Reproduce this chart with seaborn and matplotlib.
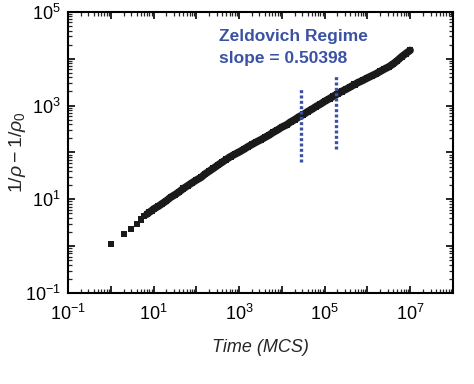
import numpy as np
import pandas as pd
import matplotlib
matplotlib.use("Agg")
import matplotlib.pyplot as plt
import matplotlib.ticker as mticker
import seaborn as sns

# ---- data ----
time_mcs = [1, 2, 3, 4, 5, 6, 7, 8, 9, 10,
            13, 16, 20, 25, 32, 40, 50, 63, 79, 100,
            130, 160, 200, 250, 320, 400, 500, 630, 790, 1000,
            1300, 1600, 2000, 2500, 3200, 4000, 5000, 6300, 7900, 1.0e4,
            1.3e4, 1.6e4, 2.0e4, 2.5e4, 3.2e4, 4.0e4, 5.0e4, 6.3e4, 7.9e4, 1.0e5,
            1.3e5, 1.6e5, 2.0e5, 2.5e5, 3.2e5, 4.0e5, 5.0e5, 6.3e5, 7.9e5, 1.0e6,
            1.3e6, 1.6e6, 2.0e6, 2.5e6, 3.2e6, 4.0e6, 5.0e6, 6.3e6, 7.9e6, 1.0e7]
inv_rho = [1.12, 1.8, 2.35, 2.95, 3.7, 4.3, 4.8, 5.3, 5.7, 6.2,
           7.1, 8.1, 9.3, 11.0, 12.6, 14.5, 17.0, 19.5, 22.4, 25.7,
           29.5, 34.7, 39.8, 45.7, 53.7, 61.7, 70.8, 81.3, 91.2, 102,
           117, 132, 148, 166, 186, 209, 234, 269, 302, 347,
           389, 447, 501, 575, 646, 741, 832, 955, 1070, 1230,
           1410, 1580, 1780, 2000, 2240, 2510, 2820, 3160, 3470, 3890,
           4370, 4790, 5370, 6030, 6760, 7760, 9120, 11000, 12900, 15100]

regime_x = [2.75e4, 1.86e5]
regime_ylo = [64, 117]
regime_yhi = [2360, 4370]
annot_lines = ["Zeldovich Regime", "slope = 0.50398"]

x_decades = list(range(-1, 9))
y_decades = list(range(-1, 6))

# ---- style ----
sns.set_style("ticks")
plt.rcParams["font.family"] = ["Liberation Sans", "DejaVu Sans"]
plt.rcParams["mathtext.fontset"] = "custom"
plt.rcParams["mathtext.rm"] = "Liberation Sans"
plt.rcParams["mathtext.it"] = "Liberation Sans:italic"
plt.rcParams["mathtext.bf"] = "Liberation Sans:bold"

blue = "#3B52A4"
mark = "#1a1a1a"

fig = plt.figure(figsize=(4.74, 3.84), dpi=100)
ax = fig.add_axes([0.1435, 0.237, 0.812, 0.732])

df = pd.DataFrame({"time": time_mcs, "val": inv_rho})
# dense region: samples so close that the squares merge into a band
dense = df[df["time"] >= 7]
sns.lineplot(data=dense, x="time", y="val", color=mark, linewidth=5.4,
             solid_capstyle="round", ax=ax, zorder=2, sort=True)
sns.scatterplot(data=df, x="time", y="val", marker="s", s=19, color=mark,
                edgecolor="none", linewidth=0, ax=ax, zorder=3)

for xv, lo, hi in zip(regime_x, regime_ylo, regime_yhi):
    ax.plot([xv, xv], [lo, hi], linestyle=(0, (0.9, 0.7)), color=blue,
            linewidth=2.4, zorder=4)

ax.set_xscale("log")
ax.set_yscale("log")
ax.set_xlim(10.0 ** x_decades[0], 10.0 ** x_decades[-1])
ax.set_ylim(10.0 ** y_decades[0], 10.0 ** y_decades[-1])

def fmt(v, pos):
    e = int(round(np.log10(v)))
    if e % 2 != 0:
        return r"$\mathregular{10^{%d}}$" % e
    return ""

for axis, decs in ((ax.xaxis, x_decades), (ax.yaxis, y_decades)):
    axis.set_major_locator(mticker.FixedLocator([10.0 ** d for d in decs]))
    axis.set_major_formatter(mticker.FuncFormatter(fmt))
    axis.set_minor_locator(mticker.LogLocator(base=10, subs=np.arange(2, 10), numticks=20))
    axis.set_minor_formatter(mticker.NullFormatter())

ax.tick_params(which="major", direction="in", length=5, width=1.2,
               top=True, right=True, labelsize=13, colors="black")
ax.tick_params(axis="x", which="major", pad=8)
ax.tick_params(axis="y", which="major", pad=5)
ax.tick_params(which="minor", direction="in", length=3, width=0.9,
               top=True, right=True)
for sp in ax.spines.values():
    sp.set_linewidth(1.5)
    sp.set_color("black")

ax.set_xlabel("Time (MCS)", fontsize=13, fontstyle="italic", labelpad=11)
ax.set_ylabel(r"$\mathit{1/\rho - 1/\rho_0}$", fontsize=14)
ax.yaxis.set_label_coords(-0.104, 0.5)

ax.text(0.392, 0.911, annot_lines[0], transform=ax.transAxes, color=blue,
        fontsize=12.5, fontweight="bold", ha="left", va="center")
ax.text(0.392, 0.833, annot_lines[1], transform=ax.transAxes, color=blue,
        fontsize=12.5, fontweight="bold", ha="left", va="center")

fig.savefig("out.png", dpi=100)
